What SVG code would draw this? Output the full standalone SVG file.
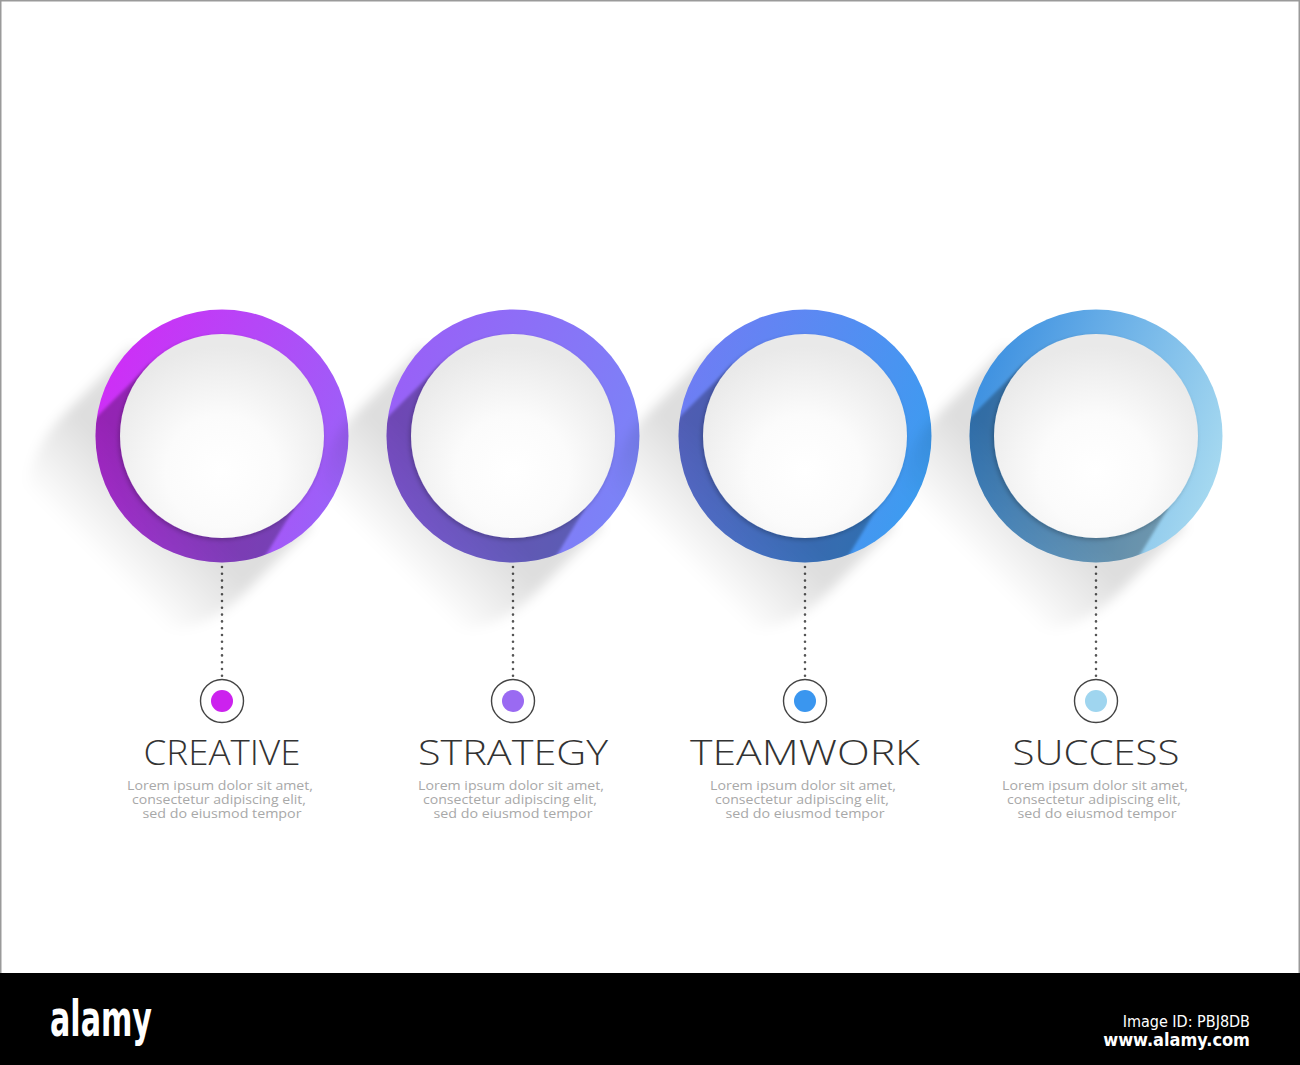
<svg xmlns="http://www.w3.org/2000/svg" width="1300" height="1065" viewBox="0 0 1300 1065">
<style>
.title{font-family:"Open Sans","Liberation Sans",sans-serif;font-weight:300;font-size:34px;fill:#333;text-anchor:middle}
.desc{font-family:"Open Sans","Liberation Sans",sans-serif;font-size:12px;fill:#a8a8a8;text-anchor:middle}
.dots{stroke:#555;stroke-width:2.6;stroke-linecap:round;stroke-dasharray:0 6.8;fill:none}
.ring-o{fill:none;stroke:#444;stroke-width:1.4}
.plate{fill:url(#plate);filter:url(#ds)}
.oshadow{fill:url(#oshade);filter:url(#blur)}
.ishadow{fill:url(#ishade);filter:url(#soft)}
</style>
<defs>
<linearGradient id="g1" gradientUnits="userSpaceOnUse" x1="-127" y1="-60" x2="127" y2="30"><stop offset="0" stop-color="#d02cf6"/><stop offset="1" stop-color="#9a62f8"/></linearGradient>
<linearGradient id="g2" gradientUnits="userSpaceOnUse" x1="-127" y1="-60" x2="127" y2="30"><stop offset="0" stop-color="#9a5ff7"/><stop offset="1" stop-color="#7a84f7"/></linearGradient>
<linearGradient id="g3" gradientUnits="userSpaceOnUse" x1="-127" y1="-60" x2="127" y2="30"><stop offset="0" stop-color="#707cf4"/><stop offset="1" stop-color="#3c9cf0"/></linearGradient>
<linearGradient id="g4" gradientUnits="userSpaceOnUse" x1="-127" y1="-60" x2="127" y2="30"><stop offset="0" stop-color="#3a8ee0"/><stop offset="1" stop-color="#a6d9f0"/></linearGradient>
<linearGradient id="oshade" gradientUnits="userSpaceOnUse" x1="-62" y1="62" x2="-125" y2="125"><stop offset="0" stop-color="#000" stop-opacity="0.13"/><stop offset="1" stop-color="#000" stop-opacity="0"/></linearGradient>
<linearGradient id="ishade" gradientUnits="userSpaceOnUse" x1="-50" y1="50" x2="-115" y2="115"><stop offset="0" stop-color="#000" stop-opacity="0.27"/><stop offset="1" stop-color="#000" stop-opacity="0.16"/></linearGradient>
<radialGradient id="plate" gradientUnits="userSpaceOnUse" cx="0" cy="35" r="125"><stop offset="0" stop-color="#ffffff"/><stop offset="0.45" stop-color="#fbfbfb"/><stop offset="1" stop-color="#e9e9e9"/></radialGradient>
<clipPath id="ringclip"><circle cx="0" cy="0" r="126.5"/></clipPath>
<filter id="blur" x="-50%" y="-50%" width="200%" height="200%"><feGaussianBlur stdDeviation="6"/></filter>
<filter id="soft" x="-20%" y="-20%" width="140%" height="140%"><feGaussianBlur stdDeviation="1.5"/></filter>
<filter id="ds" x="-20%" y="-20%" width="140%" height="140%"><feDropShadow dx="-1.5" dy="2" stdDeviation="2" flood-color="#000" flood-opacity="0.22"/></filter>
</defs>
<rect x="0" y="0" width="1300" height="1065" fill="#fff"/>
<rect x="0.75" y="0.75" width="1298.5" height="1000" fill="none" stroke="#9a9a9a" stroke-width="1.5"/>

<g id="connectors">
<line class="dots" x1="222" y1="567" x2="222" y2="676"/>
<line class="dots" x1="513" y1="567" x2="513" y2="676"/>
<line class="dots" x1="805" y1="567" x2="805" y2="676"/>
<line class="dots" x1="1096" y1="567" x2="1096" y2="676"/>
</g>

<g id="node-creative">
<g transform="translate(222,436)">
<path class="oshadow" d="M -89.8 -89.8 L -159.8 -19.8 A 127 127 0 0 0 19.8 159.8 L 89.8 89.8 Z"/>
<circle r="126.5" fill="url(#g1)"/>
<g clip-path="url(#ringclip)"><path class="ishadow" d="M -72.1 -72.1 L -162.1 17.9 A 102 102 0 0 0 17.9 162.1 L 72.1 72.1 Z"/></g>
<circle class="plate" r="102"/>
<circle class="ring-o" cx="0" cy="265" r="21.5" fill="#fff"/>
<circle cx="0" cy="265" r="11" fill="#cc22ee"/>
</g>
<text class="title" x="222" y="765" textLength="157" lengthAdjust="spacingAndGlyphs">CREATIVE</text>
<text class="desc" x="220" y="790" textLength="186" lengthAdjust="spacingAndGlyphs">Lorem ipsum dolor sit amet,</text>
<text class="desc" x="219" y="804" textLength="174" lengthAdjust="spacingAndGlyphs">consectetur adipiscing elit,</text>
<text class="desc" x="222" y="818" textLength="159" lengthAdjust="spacingAndGlyphs">sed do eiusmod tempor</text>
</g>

<g id="node-strategy">
<g transform="translate(513,436)">
<path class="oshadow" d="M -89.8 -89.8 L -159.8 -19.8 A 127 127 0 0 0 19.8 159.8 L 89.8 89.8 Z"/>
<circle r="126.5" fill="url(#g2)"/>
<g clip-path="url(#ringclip)"><path class="ishadow" d="M -72.1 -72.1 L -162.1 17.9 A 102 102 0 0 0 17.9 162.1 L 72.1 72.1 Z"/></g>
<circle class="plate" r="102"/>
<circle class="ring-o" cx="0" cy="265" r="21.5" fill="#fff"/>
<circle cx="0" cy="265" r="11" fill="#9a6af2"/>
</g>
<text class="title" x="513" y="765" textLength="190" lengthAdjust="spacingAndGlyphs">STRATEGY</text>
<text class="desc" x="511" y="790" textLength="186" lengthAdjust="spacingAndGlyphs">Lorem ipsum dolor sit amet,</text>
<text class="desc" x="510" y="804" textLength="174" lengthAdjust="spacingAndGlyphs">consectetur adipiscing elit,</text>
<text class="desc" x="513" y="818" textLength="159" lengthAdjust="spacingAndGlyphs">sed do eiusmod tempor</text>
</g>

<g id="node-teamwork">
<g transform="translate(805,436)">
<path class="oshadow" d="M -89.8 -89.8 L -159.8 -19.8 A 127 127 0 0 0 19.8 159.8 L 89.8 89.8 Z"/>
<circle r="126.5" fill="url(#g3)"/>
<g clip-path="url(#ringclip)"><path class="ishadow" d="M -72.1 -72.1 L -162.1 17.9 A 102 102 0 0 0 17.9 162.1 L 72.1 72.1 Z"/></g>
<circle class="plate" r="102"/>
<circle class="ring-o" cx="0" cy="265" r="21.5" fill="#fff"/>
<circle cx="0" cy="265" r="11" fill="#3a96ef"/>
</g>
<text class="title" x="805" y="765" textLength="230" lengthAdjust="spacingAndGlyphs">TEAMWORK</text>
<text class="desc" x="803" y="790" textLength="186" lengthAdjust="spacingAndGlyphs">Lorem ipsum dolor sit amet,</text>
<text class="desc" x="802" y="804" textLength="174" lengthAdjust="spacingAndGlyphs">consectetur adipiscing elit,</text>
<text class="desc" x="805" y="818" textLength="159" lengthAdjust="spacingAndGlyphs">sed do eiusmod tempor</text>
</g>

<g id="node-success">
<g transform="translate(1096,436)">
<path class="oshadow" d="M -89.8 -89.8 L -159.8 -19.8 A 127 127 0 0 0 19.8 159.8 L 89.8 89.8 Z"/>
<circle r="126.5" fill="url(#g4)"/>
<g clip-path="url(#ringclip)"><path class="ishadow" d="M -72.1 -72.1 L -162.1 17.9 A 102 102 0 0 0 17.9 162.1 L 72.1 72.1 Z"/></g>
<circle class="plate" r="102"/>
<circle class="ring-o" cx="0" cy="265" r="21.5" fill="#fff"/>
<circle cx="0" cy="265" r="11" fill="#9fd5ef"/>
</g>
<text class="title" x="1096" y="765" textLength="167" lengthAdjust="spacingAndGlyphs">SUCCESS</text>
<text class="desc" x="1095" y="790" textLength="186" lengthAdjust="spacingAndGlyphs">Lorem ipsum dolor sit amet,</text>
<text class="desc" x="1094" y="804" textLength="174" lengthAdjust="spacingAndGlyphs">consectetur adipiscing elit,</text>
<text class="desc" x="1097" y="818" textLength="159" lengthAdjust="spacingAndGlyphs">sed do eiusmod tempor</text>
</g>

<g id="footer">
<rect x="0" y="973" width="1300" height="92" fill="#000"/>
<text x="50" y="1036" font-family="'Liberation Sans Narrow','DejaVu Sans Condensed','Liberation Sans',sans-serif" font-weight="bold" font-size="50" fill="#fff" textLength="102" lengthAdjust="spacingAndGlyphs">alamy</text>
<text x="1250" y="1027" font-family="'DejaVu Sans Condensed','Liberation Sans Narrow',sans-serif" font-size="16" fill="#fff" text-anchor="end">Image ID: PBJ8DB</text>
<text x="1250" y="1046" font-family="'DejaVu Sans Condensed','Liberation Sans Narrow',sans-serif" font-weight="bold" font-size="18" fill="#fff" text-anchor="end">www.alamy.com</text>
</g>
</svg>
